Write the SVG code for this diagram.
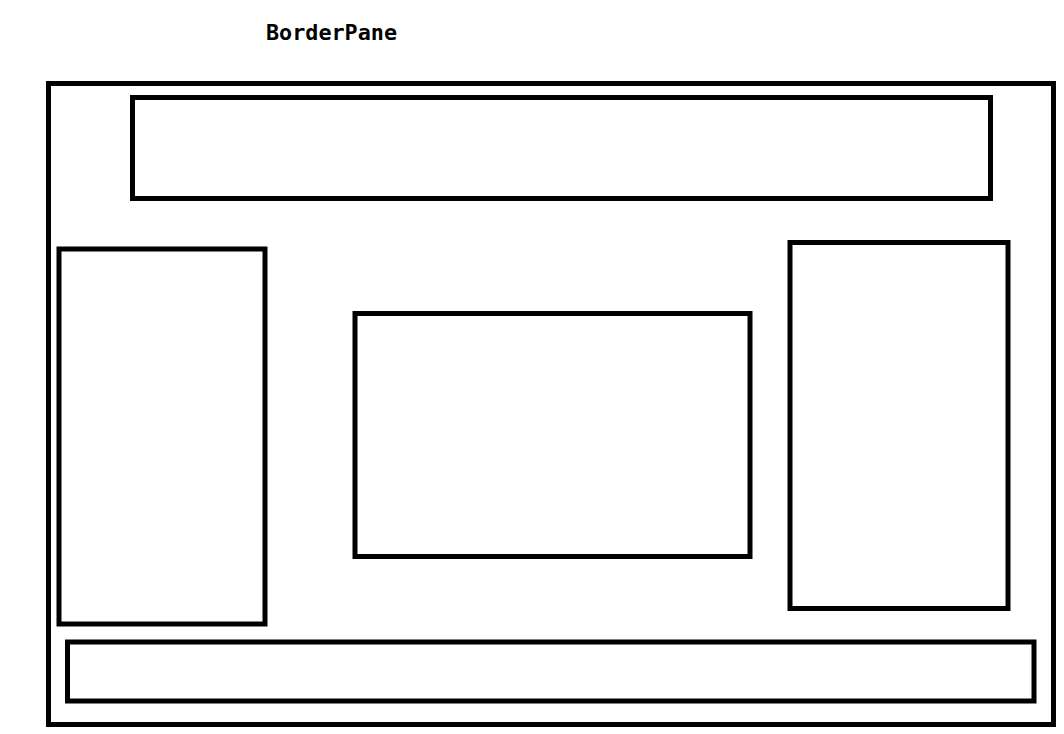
<svg xmlns="http://www.w3.org/2000/svg" width="1064" height="734" viewBox="0 0 1064 734">
<style>
.box{fill:none;stroke:#000;stroke-width:5}
.title{font-family:"DejaVu Sans Mono","Liberation Mono",monospace;font-weight:bold;font-size:21px;fill:#000}
</style>
<rect width="1064" height="734" fill="#fff"/>
<text class="title" x="266" y="39.5" textLength="131" lengthAdjust="spacingAndGlyphs">BorderPane</text>
<g id="borderpane"><rect class="box" x="48.5" y="83.5" width="1005" height="641"/></g>
<g id="top"><rect class="box" x="132.5" y="97.5" width="858" height="101"/></g>
<g id="left"><rect class="box" x="59" y="249" width="206" height="375"/></g>
<g id="center"><rect class="box" x="355" y="313.5" width="395" height="243"/></g>
<g id="right"><rect class="box" x="790" y="242.5" width="218" height="366"/></g>
<g id="bottom"><rect class="box" x="67.5" y="642" width="966.5" height="59"/></g>
<g id="connectors"></g>
</svg>
